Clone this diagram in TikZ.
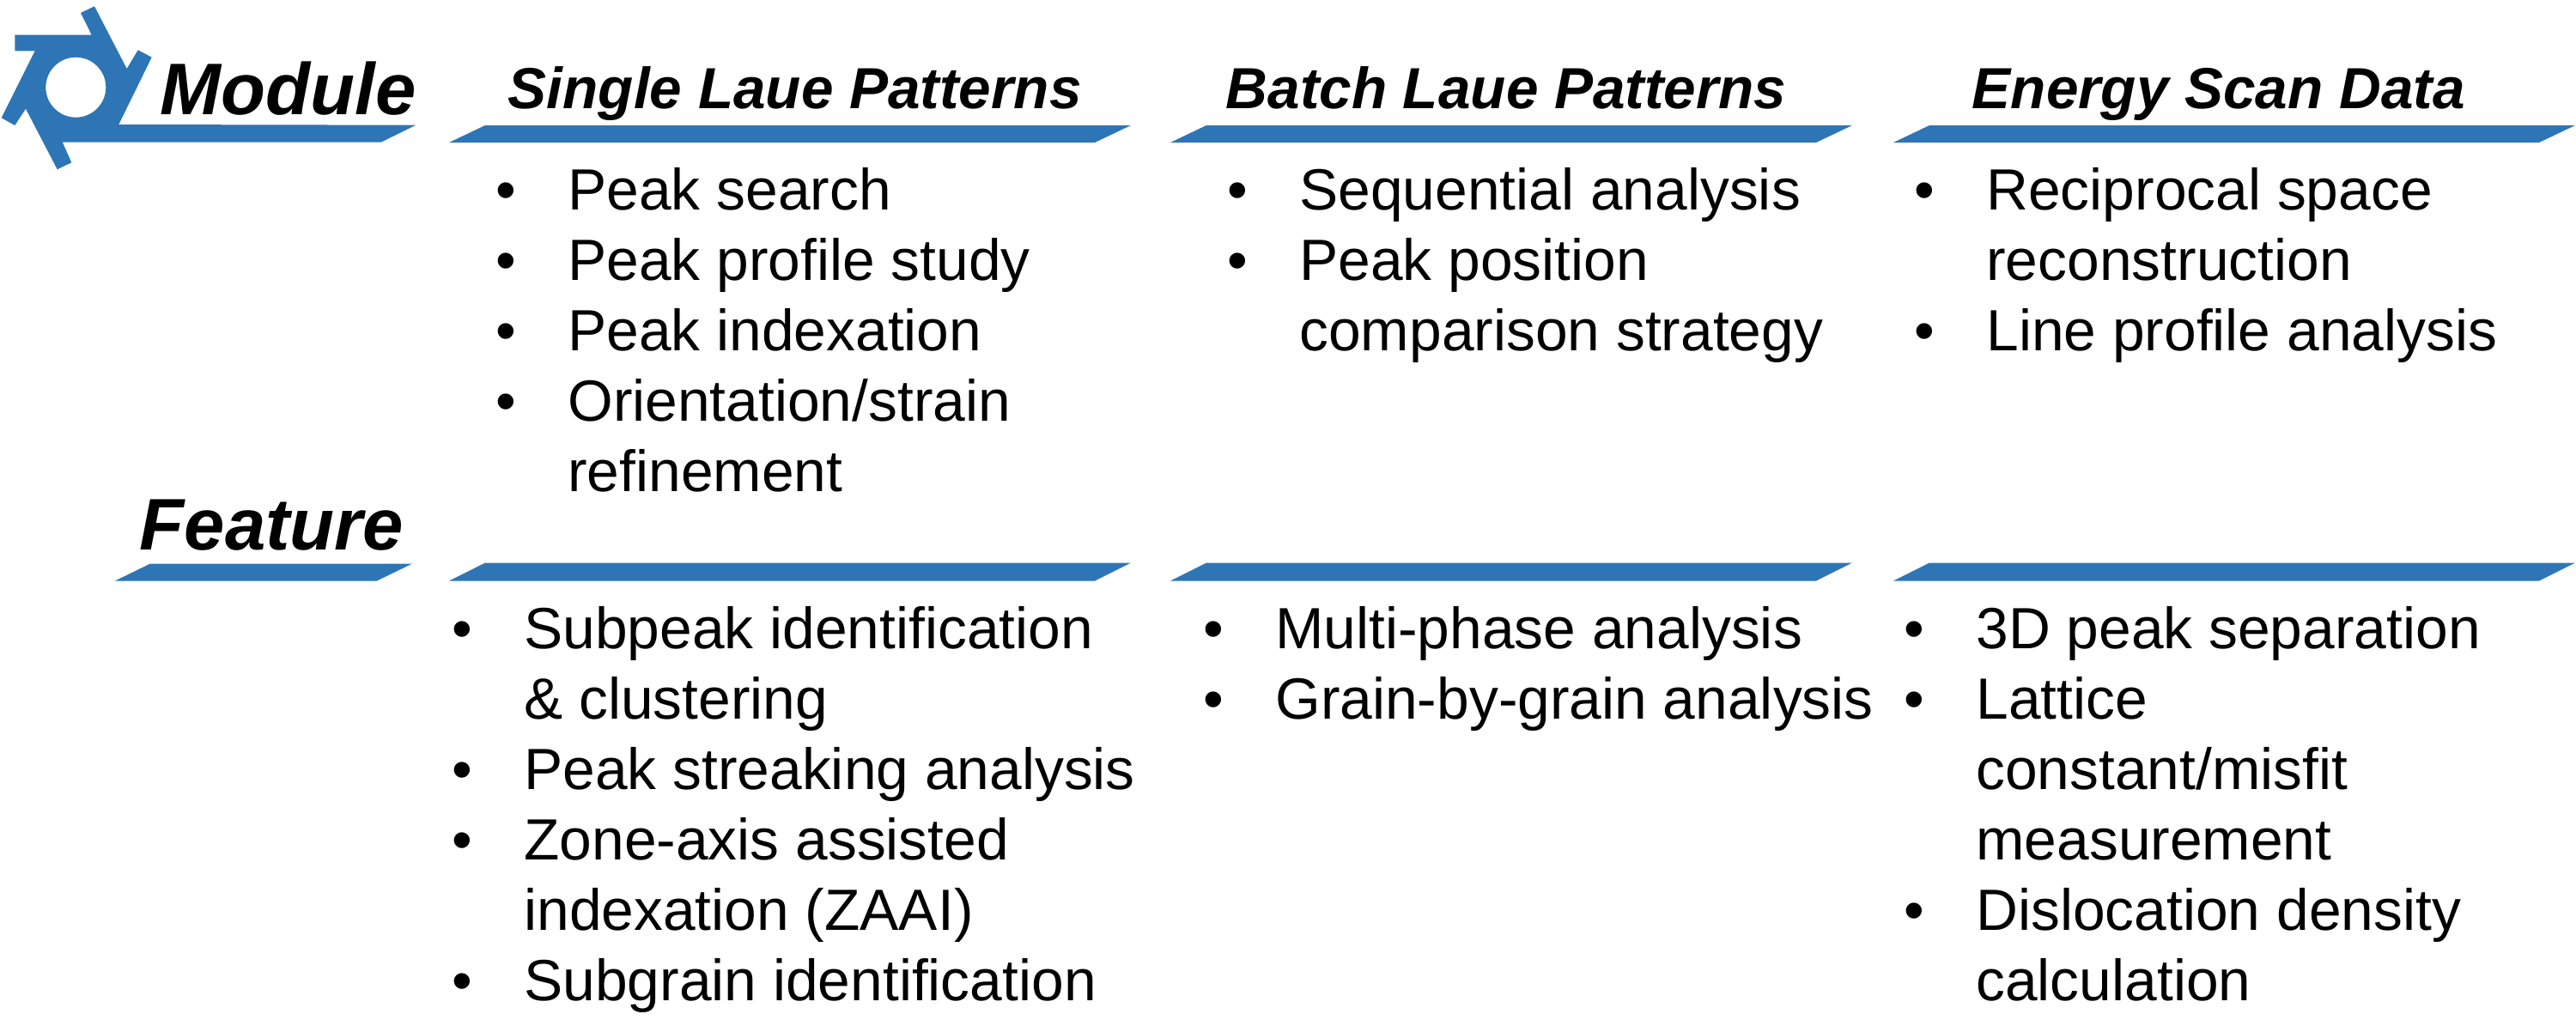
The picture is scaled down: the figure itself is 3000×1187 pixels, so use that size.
\documentclass[tikz,border=0pt]{standalone}
\usepackage{fontspec}
\setmainfont{Liberation Sans}
\definecolor{ribbonblue}{HTML}{2E75B6}
\newcommand{\Bul}{\makebox[23.8pt][l]{\textbullet}}
\newcommand{\Nob}{\hspace*{23.8pt}}
\tikzset{
	ribbon/.style={fill=ribbonblue},
	title/.style={anchor=base west, inner sep=0pt, font=\fontsize{24.2}{29}\selectfont\bfseries\itshape},
	head/.style={anchor=base west, inner sep=0pt, font=\fontsize{19.2}{23}\selectfont\bfseries\itshape},
	items/.style={anchor=north west, inner sep=0pt, align=left, font=\fontsize{19.26}{23.33}\selectfont}
}

\begin{document}
\begin{tikzpicture}[x=0.01cm, y=-0.01cm]
	\useasboundingbox (0,0) rectangle (3000,1187);

	% logo with the module ribbon
	\fill[ribbon, even odd rule] (94,15) -- (110,7.3) -- (147.7,80) -- (160.7,58.3) -- (176.7,66.7)
		-- (138.3,145) -- (484.3,145.7) -- (444,165.5) -- (72.7,165.5) -- (83.3,189.3) -- (66.7,197.3)
		-- (30,126.7) -- (17.3,146) -- (1.7,137.3) -- (40.7,59.3) -- (17.3,59.3) -- (17.3,40.7)
		-- (106.7,40.7) -- cycle
		(88.3,101.7) circle (35);

	% ribbons
	\fill[ribbon] (523,166) -- ++(42,-20) -- ++(752,0) -- ++(-42,20) -- cycle;
	\fill[ribbon] (1363,166) -- ++(42,-20) -- ++(752,0) -- ++(-42,20) -- cycle;
	\fill[ribbon] (2205,166) -- ++(42,-20) -- ++(752,0) -- ++(-42,20) -- cycle;
	\fill[ribbon] (134,676.5) -- ++(41,-20) -- ++(305,0) -- ++(-41,20) -- cycle;
	\fill[ribbon] (523,676.5) -- ++(42,-21) -- ++(752,0) -- ++(-42,21) -- cycle;
	\fill[ribbon] (1363,676.5) -- ++(42,-21) -- ++(752,0) -- ++(-42,21) -- cycle;
	\fill[ribbon] (2205,676.5) -- ++(42,-21) -- ++(752,0) -- ++(-42,21) -- cycle;

	% titles
	\node[title] (module) at (186,133) {Module};
	\node[title] (feature) at (162,640) {Feature};
	\node[head] (single) at (591,126.5) {Single Laue Patterns};
	\node[head] (batch) at (1427,126.5) {Batch Laue Patterns};
	\node[head] (energy) at (2296,126.5) {Energy Scan Data};

	% module lists
	\node[items] (singlelist) at (577,194.6) {\Bul Peak search\\\Bul Peak profile study\\\Bul Peak indexation\\\Bul Orientation/strain\\\Nob refinement};
	\node[items] (batchlist) at (1429,194.6) {\Bul Sequential analysis\\\Bul Peak position\\\Nob comparison strategy};
	\node[items] (energylist) at (2229,194.6) {\Bul Reciprocal space\\\Nob reconstruction\\\Bul Line profile analysis};

	% feature lists
	\node[items] (singlefeat) at (526,705.6) {\Bul Subpeak identification\\\Nob \& clustering\\\Bul Peak streaking analysis\\\Bul Zone-axis assisted\\\Nob indexation (ZAAI)\\\Bul Subgrain identification};
	\node[items] (batchfeat) at (1401,705.6) {\Bul Multi-phase analysis\\\Bul Grain-by-grain analysis};
	\node[items] (energyfeat) at (2217,705.6) {\Bul 3D peak separation\\\Bul Lattice\\\Nob constant/misfit\\\Nob measurement\\\Bul Dislocation density\\\Nob calculation};
\end{tikzpicture}
\end{document}
